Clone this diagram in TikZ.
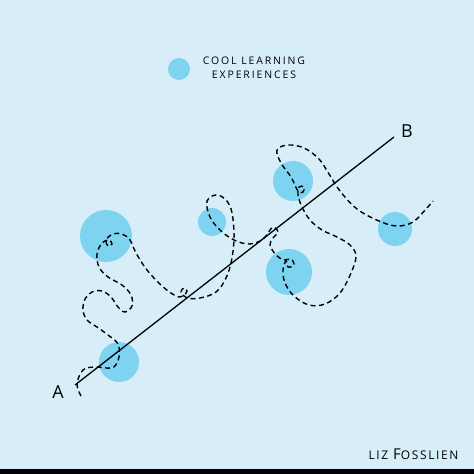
\documentclass[tikz,border=0pt]{standalone}
\usepackage{fontspec}
\setmainfont{Open Sans}
\usetikzlibrary{positioning}
\definecolor{sky}{RGB}{215,238,249}
\definecolor{blob}{RGB}{125,211,240}
\tikzset{
	cool/.style={fill=blob},
	wander/.style={line width=1.4bp, dash pattern=on 5bp off 3.5bp},
	tag/.style={font=\fontsize{10.5}{14.5}\selectfont\addfontfeature{LetterSpace=18}, align=center}
}
\begin{document}
\begin{tikzpicture}[x=1bp,y=-1bp]
	\useasboundingbox (0,0) rectangle (474,474);
	\fill[sky] (0,0) rectangle (474,474);
	\fill[black] (0,469) rectangle (474,474);
	
	\fill[cool] (179,69) circle (11bp);
	\node[tag] (legend) at (254,68) {COOL LEARNING\\EXPERIENCES};
	
	\foreach \cx/\cy/\r in {106/236/26, 119/362/20, 212/222/14, 293/181/20, 289/272/23, 395/229/17}
		\fill[cool] (\cx,\cy) circle (\r bp);
	
	\draw[wander] plot[smooth, tension=0.6] coordinates {
		(81,396) (77,384) (83,370) (95,367) (106,368) (114,367) (119,357) (118,344) (108,335) (97,327)
		(88,321) (83,311) (85,299) (92,292) (102,291) (111,297) (118,307) (125,312) (132,306) (131,295)
		(122,285) (108,277) (99,267) (97,254) (102,243) (109,240) (112,244) (108,246) (106,240) (113,234)
		(122,234) (130,240) (136,253) (147,270) (162,286) (176,296) (183,296) (187,291) (184,288) (181,292)
		(187,298) (200,298) (216,292) (226,278) (232,258) (234,232) (230,206) (218,195) (207,201) (210,217)
		(220,230) (234,240) (249,244) (262,240) (268,233) (273,227) (278,232) (273,238) (270,245) (276,255)
		(284,260) (291,259) (294,265) (288,267) (286,261) (283,270) (285,283) (294,296) (309,305) (325,304)
		(340,293) (351,273) (356,256) (350,245) (337,237) (322,230) (310,220) (302,207) (298,195) (299,187)
		(304,187) (303,192) (298,191) (291,177) (281,163) (277,150) (288,145) (304,148) (319,159) (329,174)
		(340,191) (357,209) (379,221) (397,226) (413,222) (426,209) (433,201)
	};
	
	\coordinate (start) at (75,385);
	\coordinate (finish) at (394,137);
	\draw[line width=1.3bp] (start) -- (finish);
	\node[font=\fontsize{18}{18}\selectfont] (A) at (58,392) {A};
	\node[font=\fontsize{18}{18}\selectfont] (B) at (407,131) {B};
	
	\node[font=\fontsize{12}{14}\selectfont\addfontfeature{LetterSpace=14}, anchor=east] (sig) at (462,454) {LIZ {\fontsize{15}{15}\selectfont F}OSSLIEN};
\end{tikzpicture}
\end{document}
